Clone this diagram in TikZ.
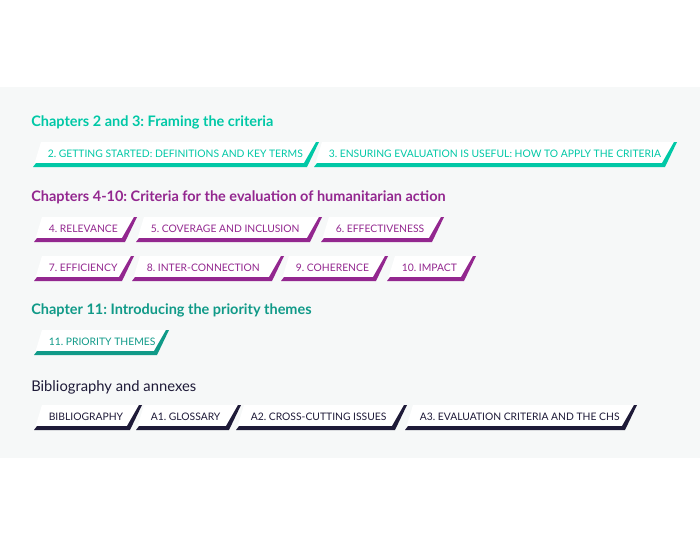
\documentclass[tikz,border=0pt]{standalone}
\usepackage{fontspec}
\setmainfont{Lato}
\frenchspacing

\definecolor{bgGray}{RGB}{246,248,248}
\definecolor{tealBright}{RGB}{0,200,166}
\definecolor{plum}{RGB}{147,39,143}
\definecolor{tealDark}{RGB}{16,154,136}
\definecolor{navy}{RGB}{30,26,56}

\tikzset{
    chaphead/.style={anchor=base west, inner sep=0pt, font=\bfseries\fontsize{10.3}{12}\selectfont},
    tablabel/.style={anchor=base west, inner sep=0pt, font=\fontsize{7.35}{9}\selectfont},
}

% slanted tab: colour, bar left, bar right, bar y, label, node name
\newcommand{\chaptab}[6]{%
    \fill[white] (#2,#4) -- ({#2+7},{#4-23}) -- ({#3+13},{#4-23}) -- (#3,#4) -- cycle;
    \fill[#1] ({#2-1},{#4+2}) -- ({#2+2},{#4-2}) -- ({#3-1},{#4-2}) -- ({#3+11},{#4-23})
        -- ({#3+14},{#4-23}) -- ({#3+2},{#4+2}) -- cycle;
    \node[tablabel, text=#1] (#6) at ({#2+13.5},{#4-8}) {#5};
}

\begin{document}
\begin{tikzpicture}[x=0.025cm, y=-0.025cm]

    \useasboundingbox (0,0) rectangle (700,560);
    \fill[bgGray] (0,87) rectangle (700,458);

    % chapters 2 and 3
    \node[chaphead, text=tealBright] (headFraming) at (31,126) {Chapters 2 and 3: Framing the criteria};
    \chaptab{tealBright}{34}{305}{165}{2. GETTING STARTED: DEFINITIONS AND KEY TERMS}{tabStart}
    \chaptab{tealBright}{315}{663}{165}{3. ENSURING EVALUATION IS USEFUL: HOW TO APPLY THE CRITERIA}{tabUseful}

    % chapters 4-10
    \node[chaphead, text=plum] (headCriteria) at (31,201) {Chapters 4-10: Criteria for the evaluation of humanitarian action};
    \chaptab{plum}{35}{123}{240}{4. RELEVANCE}{tabRelevance}
    \chaptab{plum}{137}{308}{240}{5. COVERAGE AND INCLUSION}{tabCoverage}
    \chaptab{plum}{322}{430}{240}{6. EFFECTIVENESS}{tabEffectiveness}
    \chaptab{plum}{35}{120}{279}{7. EFFICIENCY}{tabEfficiency}
    \chaptab{plum}{133}{270}{279}{8. INTER-CONNECTION}{tabConnection}
    \chaptab{plum}{282}{374}{279}{9. COHERENCE}{tabCoherence}
    \chaptab{plum}{388}{462}{279}{10. IMPACT}{tabImpact}

    % chapter 11
    \node[chaphead, text=tealDark] (headThemes) at (31,314) {Chapter 11: Introducing the priority themes};
    \chaptab{tealDark}{35}{155}{353}{11. PRIORITY THEMES}{tabThemes}

    % annexes
    \node[chaphead, text=navy, font=\fontsize{10.5}{12}\selectfont] (headAnnexes) at (31,391) {Bibliography and annexes};
    \chaptab{navy}{35}{128}{428}{BIBLIOGRAPHY}{tabBiblio}
    \chaptab{navy}{137}{227}{428}{A1. GLOSSARY}{tabGlossary}
    \chaptab{navy}{237}{393}{428}{A2. CROSS-CUTTING ISSUES}{tabCrossCutting}
    \chaptab{navy}{406}{623}{428}{A3. EVALUATION CRITERIA AND THE CHS}{tabCHS}

\end{tikzpicture}
\end{document}
